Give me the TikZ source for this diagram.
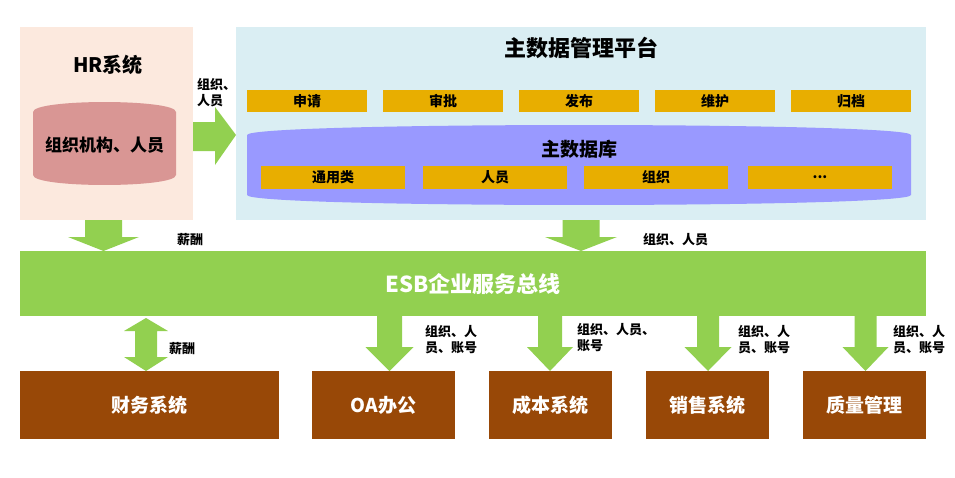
\documentclass[tikz,border=0pt]{standalone}
\usepackage{fontspec}
\setmainfont{Noto Sans CJK SC}
\definecolor{hrbg}{HTML}{FCE9DE}
\definecolor{platbg}{HTML}{DAEEF3}
\definecolor{rose}{HTML}{D99694}
\definecolor{gold}{HTML}{E8AE00}
\definecolor{violet}{HTML}{9999FF}
\definecolor{agreen}{HTML}{92D050}
\definecolor{brownbox}{HTML}{984807}
\newcommand\downarr[6]{%
  \fill[agreen] ({#1-#5},#2) -- ({#1+#5},#2) -- ({#1+#5},#3) -- ({#1+#6},#3) -- (#1,#4) -- ({#1-#6},#3) -- ({#1-#5},#3) -- cycle;}
\begin{document}
\begin{tikzpicture}[x=1pt,y=-1pt,
  blk/.style={inner sep=0pt, outer sep=0pt, anchor=north west},
  goldbox/.style={blk, fill=gold, minimum width=120pt, minimum height=22pt, font=\fontsize{14}{16}\selectfont\bfseries},
  goldbox2/.style={blk, fill=gold, minimum width=144pt, minimum height=23pt, font=\fontsize{14}{16}\selectfont\bfseries},
  sysbox/.style={blk, fill=brownbox, minimum height=68pt, text=white, font=\fontsize{19}{22}\selectfont\bfseries},
  lbl/.style={inner sep=0pt, anchor=north west, align=left, font=\fontsize{13}{16}\selectfont\bfseries}]
\fill[white] (0,0) rectangle (955,477);
\useasboundingbox (0,0) rectangle (955,477);
% HR system
\node[blk, fill=hrbg, minimum width=173pt, minimum height=193pt] (hr) at (20,27) {};
\node[font=\fontsize{20}{24}\selectfont\bfseries] (hrt) at (108,65) {HR系统};
\fill[rose] (33,112) .. controls (33,98.7) and (176,98.7) .. (176,112) -- (176,175) .. controls (176,188.3) and (33,188.3) .. (33,175) -- cycle;
\node[font=\fontsize{17}{20}\selectfont\bfseries] (hrdb) at (104.5,145) {组织机构、人员};
% Platform
\node[blk, fill=platbg, minimum width=690pt, minimum height=193pt] (plat) at (236,27) {};
\node[font=\fontsize{22}{26}\selectfont\bfseries] (platt) at (581,48) {主数据管理平台};
\node[goldbox] (g1) at (247,90) {申请};
\node[goldbox] (g2) at (383,90) {审批};
\node[goldbox] (g3) at (519,90) {发布};
\node[goldbox] (g4) at (655,90) {维护};
\node[goldbox] (g5) at (791,90) {归档};
\fill[violet] (247,135) .. controls (247,121.7) and (911,121.7) .. (911,135) -- (911,195) .. controls (911,208.3) and (247,208.3) .. (247,195) -- cycle;
\node[font=\fontsize{19}{22}\selectfont\bfseries] (mdb) at (579,149) {主数据库};
\node[goldbox2] (d1) at (261,166) {通用类};
\node[goldbox2] (d2) at (423,166) {人员};
\node[goldbox2] (d3) at (584,166) {组织};
\node[goldbox2] (d4) at (748,166) {...};
% right arrow HR -> platform
\fill[agreen] (193,122) -- (215,122) -- (215,107) -- (236,135) -- (215,165) -- (215,151) -- (193,151) -- cycle;
\node[lbl] (l0) at (197,78) {组织、\\人员};
% ESB
\node[blk, fill=agreen, minimum width=906pt, minimum height=65pt] (esb) at (20,251) {};
\node[text=white, font=\fontsize{22}{25}\selectfont\bfseries] (esbt) at (473,284) {ESB企业服务总线};
\downarr{103.5}{220}{237}{251}{18.5}{35.5}
\node[lbl] (l1) at (177,233) {薪酬};
\downarr{581}{220}{237}{251}{18.5}{36}
\node[lbl] (l2) at (643,233) {组织、人员};
% bottom systems
\node[sysbox, minimum width=259pt] (s1) at (20,371) {财务系统};
\node[sysbox, minimum width=143pt] (s2) at (312,371) {OA办公};
\node[sysbox, minimum width=123pt] (s3) at (489,371) {成本系统};
\node[sysbox, minimum width=123pt] (s4) at (646,371) {销售系统};
\node[sysbox, minimum width=123pt] (s5) at (803,371) {质量管理};
% double arrow
\fill[agreen] (146,318) -- (168,331) -- (157,331) -- (157,357) -- (168,357) -- (146,371) -- (124,357) -- (135,357) -- (135,331) -- (124,331) -- cycle;
\node[lbl] (l3) at (169,342) {薪酬};
\downarr{389.5}{316}{347}{371}{12.5}{24}
\node[lbl] (l4) at (425,325) {组织、人\\员、账号};
\downarr{550}{316}{347}{371}{12}{23}
\node[lbl] (l5) at (577,323) {组织、人员、\\账号};
\downarr{708}{316}{347}{371}{11}{23.5}
\node[lbl] (l6) at (738,325) {组织、人\\员、账号};
\downarr{865.5}{316}{347}{371}{11}{23}
\node[lbl] (l7) at (893,325) {组织、人\\员、账号};
\end{tikzpicture}
\end{document}
